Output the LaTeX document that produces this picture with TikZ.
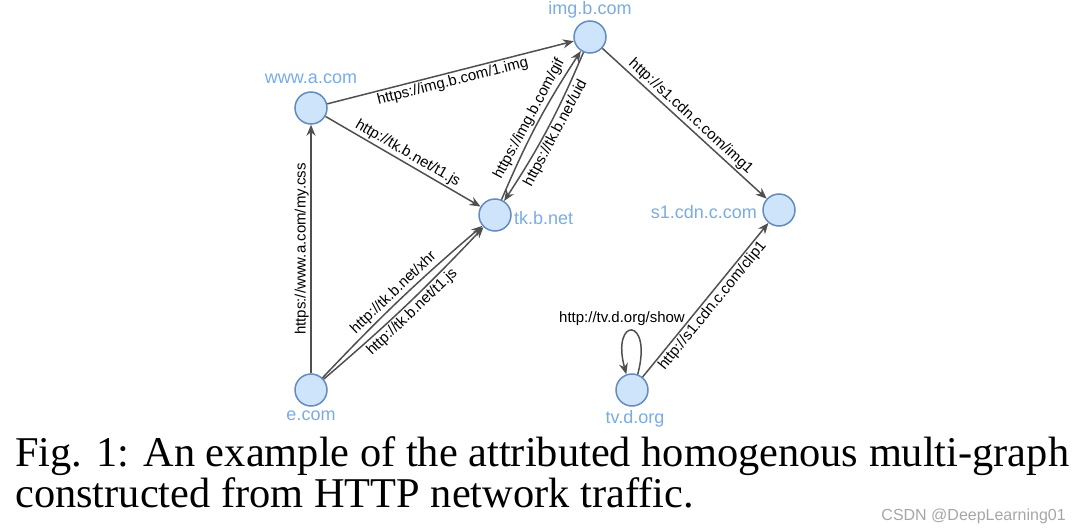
\documentclass[tikz,border=0pt]{standalone}
\usepackage{fontspec}
\setmainfont{Liberation Serif}
\newfontfamily\lsans{Liberation Sans}
\usetikzlibrary{arrows.meta}
\definecolor{nfill}{RGB}{206,228,250}
\definecolor{nline}{RGB}{100,140,190}
\definecolor{ltxt}{RGB}{120,172,230}
\definecolor{eline}{RGB}{80,80,80}
\begin{document}
\begin{tikzpicture}[x=1pt,y=-1pt,
  nd/.style={circle,draw=nline,fill=nfill,line width=1.5pt,minimum size=32pt,inner sep=0pt},
  nl/.style={text=ltxt,font=\lsans\fontsize{18}{18}\selectfont,inner sep=0pt},
  ed/.style={draw=eline,line width=1.5pt,-{Stealth[length=11pt,width=9pt]}},
  el/.style={font=\lsans\fontsize{15}{15}\selectfont,sloped,inner sep=1.5pt}]
\useasboundingbox (0,0) rectangle (1080,532);
\node[nd] (img) at (590,37) {};
\node[nd] (www) at (311,108) {};
\node[nd] (tk) at (495,215) {};
\node[nd] (s1) at (779,210) {};
\node[nd] (e) at (311,390) {};
\node[nd] (tv) at (632,390) {};
\node[nl] (limg) at (590,10) {img.b.com};
\node[nl] (lwww) at (311,79) {www.a.com};
\node[nl,anchor=west] (ltk) at (514,218) {tk.b.net};
\node[nl,anchor=east] (ls1) at (757,212) {s1.cdn.c.com};
\node[nl] (le) at (311,416) {e.com};
\node[nl] (ltv) at (635,419) {tv.d.org};
\draw[ed] (www) -- node[el,below] {https://img.b.com/1.img} (img);
\draw[ed] (www) -- node[el,above] {http://tk.b.net/t1.js} (tk);
\draw[ed] (e) -- node[el,above] {https://www.a.com/my.css} (www);
\draw[ed] (e) to[bend left=3] node[el,above] {http://tk.b.net/xhr} (tk);
\draw[ed] (e) to[bend right=3] node[el,below] {http://tk.b.net/t1.js} (tk);
\draw[ed] (tk) to[bend left=5] node[el,above] {https://img.b.com/gif} (img);
\draw[ed] (img) to[bend left=5] node[el,below] {https://tk.b.net/uid} (tk);
\draw[ed] (img) -- node[el,above] {http://s1.cdn.c.com/img1} (s1);
\draw[ed] (tv) -- node[el,below] {http://s1.cdn.c.com/clip1} (s1);
\draw[ed] (tv.70) .. controls +(-75:60) and +(-105:60) .. node[font=\lsans\fontsize{15}{15}\selectfont,above,inner sep=4pt,xshift=-10pt] {http://tv.d.org/show} (tv.110);
\node[anchor=base west,inner sep=0pt,font=\fontsize{42.4}{42.4}\selectfont] (cap1) at (15,466) {Fig. 1: An example of the attributed homogenous multi-graph};
\node[anchor=base west,inner sep=0pt,font=\fontsize{42.4}{42.4}\selectfont] (cap2) at (15,507) {constructed from HTTP network traffic.};
\node[anchor=base east,inner sep=0pt,text=gray!70,font=\lsans\fontsize{16}{16}\selectfont] (wm) at (1066,520) {CSDN @DeepLearning01};
\end{tikzpicture}
\end{document}
